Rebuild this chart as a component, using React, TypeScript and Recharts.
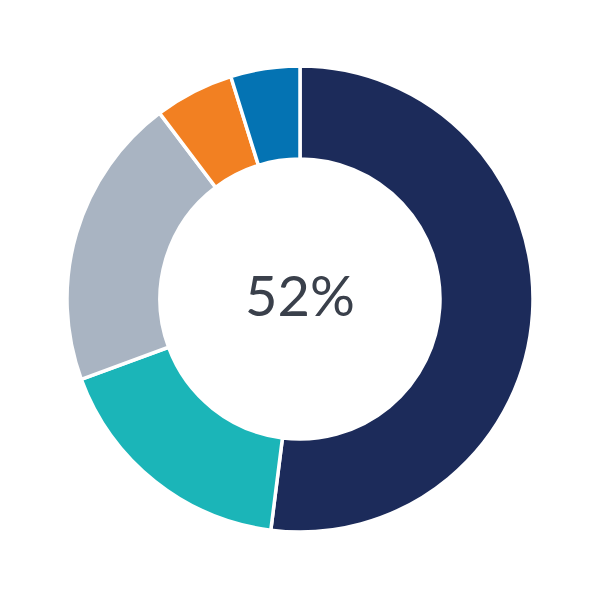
import React from "react";
import { PieChart, Pie, Cell } from "recharts";

const segmentNames = ["Navy", "Teal", "Gray", "Orange", "Blue"];
const segmentValues = [52, 17.4, 20.3, 5.5, 4.8];
const segmentColors = ["#1c2b5a", "#1bb5b8", "#a9b4c2", "#f28022", "#0473b3"];
const centerLabel = "52%";

const data = segmentNames.map((name, i) => ({ name, value: segmentValues[i] }));

export default function App() {
  return (
    <div style={{ position: "absolute", top: 0, left: 0, background: "#fff" }}>
      <PieChart width={600} height={600} margin={{ top: 0, right: 0, bottom: 0, left: 0 }}>
        <Pie
          data={data}
          dataKey="value"
          cx={300}
          cy={299}
          innerRadius={140}
          outerRadius={233}
          startAngle={90}
          endAngle={-270}
          stroke="#fff"
          strokeWidth={3.5}
          isAnimationActive={false}
        >
          {data.map((d, i) => (
            <Cell key={d.name} fill={segmentColors[i]} />
          ))}
        </Pie>
        <text
          x={300}
          y={294}
          textAnchor="middle"
          dominantBaseline="central"
          style={{ fontFamily: "Lato, sans-serif", fontSize: 56, fill: "#3a404b" }}
        >
          {centerLabel}
        </text>
      </PieChart>
    </div>
  );
}
